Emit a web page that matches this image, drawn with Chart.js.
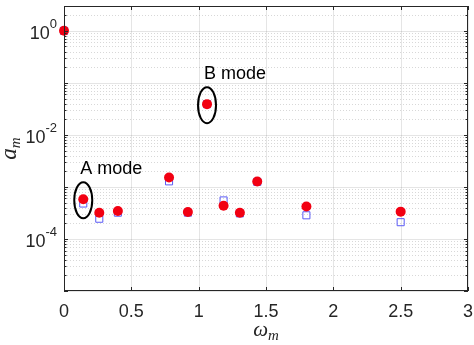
<!DOCTYPE html>
<html>
<head>
<meta charset="utf-8">
<script src="https://cdn.jsdelivr.net/npm/chart.js@4/dist/chart.umd.min.js"></script>
<style>
  html, body { margin: 0; padding: 0; background: #fff; }
  canvas { display: block; }
</style>
</head>
<body>
<canvas id="c" width="474" height="345"></canvas>
<script>
// Modal frequencies and amplitudes
const omega    = [0, 0.143, 0.262, 0.40, 0.78, 0.92, 1.062, 1.185, 1.306, 1.435, 1.80, 2.50];
const ampFilled = [1.0, 5.8e-4, 3.2e-4, 3.45e-4, 1.52e-3, 3.3e-4, 0.039, 4.35e-4, 3.2e-4, 1.27e-3, 4.2e-4, 3.35e-4];
const ampOpen   = [1.0, 4.8e-4, 2.45e-4, 3.2e-4, 1.28e-3, 3.2e-4, 0.039, 5.5e-4, 3.1e-4, 1.25e-3, 2.85e-4, 2.1e-4];

// Axis ticks
const xTicks = [0, 0.5, 1, 1.5, 2, 2.5, 3];
const xTickLabels = ['0', '0.5', '1', '1.5', '2', '2.5', '3'];
const yDecades = [-5, -4, -3, -2, -1, 0];
const yLabelledExp = [0, -2, -4];

// Highlighted modes (index into omega)
const modeNotes = [
  { label: 'A mode', index: 1 },
  { label: 'B mode', index: 6 }
];

const AXIS = '#262626';
const FONT = '"Liberation Sans", Arial, sans-serif';

const pts = (ys) => omega.map((x, i) => ({ x, y: ys[i] }));

const axesPlugin = {
  id: 'matlabAxes',
  beforeDatasetsDraw(chart) {
    const { ctx, chartArea: a, scales: { x, y } } = chart;
    ctx.save();
    // minor horizontal grid (dotted)
    ctx.strokeStyle = 'rgba(38,38,38,0.18)';
    ctx.lineWidth = 1;
    ctx.setLineDash([1, 2]);
    yDecades.forEach(d => {
      for (let m = 2; m <= 9; m++) {
        const v = m * Math.pow(10, d);
        if (v > y.max) continue;
        const py = Math.round(y.getPixelForValue(v)) + 0.5;
        ctx.beginPath(); ctx.moveTo(a.left, py); ctx.lineTo(a.right, py); ctx.stroke();
      }
    });
    ctx.setLineDash([]);
    // major grid
    ctx.strokeStyle = 'rgba(38,38,38,0.12)';
    yDecades.forEach(d => {
      const py = Math.round(y.getPixelForValue(Math.pow(10, d))) + 0.5;
      ctx.beginPath(); ctx.moveTo(a.left, py); ctx.lineTo(a.right, py); ctx.stroke();
    });
    xTicks.forEach(t => {
      const px = Math.round(x.getPixelForValue(t)) + 0.5;
      ctx.beginPath(); ctx.moveTo(px, a.top); ctx.lineTo(px, a.bottom); ctx.stroke();
    });
    ctx.restore();
  },
  afterDatasetsDraw(chart) {
    const { ctx, chartArea: a, scales: { x, y } } = chart;
    ctx.save();
    // box
    ctx.strokeStyle = AXIS;
    ctx.lineWidth = 1;
    ctx.strokeRect(a.left + 0.5, a.top + 0.5, a.right - a.left - 1, a.bottom - a.top - 1);
    // x ticks
    ctx.beginPath();
    xTicks.forEach(t => {
      const px = Math.round(x.getPixelForValue(t)) + 0.5;
      ctx.moveTo(px, a.bottom); ctx.lineTo(px, a.bottom - 4);
      ctx.moveTo(px, a.top); ctx.lineTo(px, a.top + 4);
    });
    // y ticks (major + minor)
    yDecades.forEach(d => {
      for (let m = 1; m <= 9; m++) {
        const v = m * Math.pow(10, d);
        if (v > y.max) continue;
        const len = m === 1 ? 4 : 2.5;
        const py = Math.round(y.getPixelForValue(v)) + 0.5;
        ctx.moveTo(a.left, py); ctx.lineTo(a.left + len, py);
        ctx.moveTo(a.right, py); ctx.lineTo(a.right - len, py);
      }
    });
    ctx.stroke();

    // x tick labels
    ctx.fillStyle = AXIS;
    ctx.font = '18px ' + FONT;
    ctx.textAlign = 'center';
    ctx.textBaseline = 'middle';
    xTicks.forEach((t, i) => {
      ctx.fillText(xTickLabels[i], x.getPixelForValue(t), 312);
    });

    // y tick labels: 10 with superscript exponent
    yLabelledExp.forEach(e => {
      const py = y.getPixelForValue(Math.pow(10, e));
      const exp = String(e);
      ctx.font = '13px ' + FONT;
      const we = ctx.measureText(exp).width;
      ctx.textAlign = 'left';
      ctx.textBaseline = 'alphabetic';
      const right = a.left - 7;
      ctx.fillText(exp, right - we, py - 3);
      ctx.font = '18px ' + FONT;
      const wb = ctx.measureText('10').width;
      ctx.fillText('10', right - we - wb, py + 8);
    });

    // axis titles
    ctx.textAlign = 'left';
    ctx.textBaseline = 'alphabetic';
    // x title: omega_m
    ctx.font = 'italic 21px "Liberation Serif", "DejaVu Serif", serif';
    const cx = (a.left + a.right) / 2;
    const ww = ctx.measureText('ω').width;
    ctx.font = 'italic 15px "Liberation Serif", "DejaVu Serif", serif';
    const wm = ctx.measureText('m').width;
    let sx = cx - (ww + wm) / 2;
    ctx.font = 'italic 21px "Liberation Serif", "DejaVu Serif", serif';
    ctx.fillText('ω', sx, 336);
    ctx.font = 'italic 15px "Liberation Serif", "DejaVu Serif", serif';
    ctx.fillText('m', sx + ww, 340);

    // y title: a_m (rotated)
    ctx.save();
    ctx.translate(16, (a.top + a.bottom) / 2);
    ctx.rotate(-Math.PI / 2);
    ctx.font = 'italic 23px "Liberation Serif", "DejaVu Serif", serif';
    const wa = ctx.measureText('a').width;
    ctx.font = 'italic 15px "Liberation Serif", "DejaVu Serif", serif';
    const wm2 = ctx.measureText('m').width;
    const sy = -(wa + wm2) / 2;
    ctx.font = 'italic 23px "Liberation Serif", "DejaVu Serif", serif';
    ctx.fillText('a', sy, 0);
    ctx.font = 'italic 15px "Liberation Serif", "DejaVu Serif", serif';
    ctx.fillText('m', sy + wa, 4);
    ctx.restore();

    // mode annotations
    modeNotes.forEach(n => {
      const px = x.getPixelForValue(omega[n.index]);
      const py = y.getPixelForValue(ampFilled[n.index]);
      ctx.strokeStyle = '#000';
      ctx.lineWidth = 2;
      ctx.beginPath();
      ctx.ellipse(px, py + 1, 9, 18, 0, 0, Math.PI * 2);
      ctx.stroke();
      ctx.fillStyle = '#000';
      ctx.font = '18px ' + FONT;
      ctx.textAlign = 'left';
      ctx.textBaseline = 'middle';
      ctx.fillText(n.label, px - 3, py - 30);
    });
    ctx.restore();
  }
};

new Chart(document.getElementById('c'), {
  type: 'scatter',
  data: {
    datasets: [
      {
        data: pts(ampFilled),
        pointStyle: 'circle',
        pointRadius: 5,
        pointHoverRadius: 5,
        backgroundColor: '#f20012',
        borderColor: '#f20012',
        borderWidth: 0,
        clip: false
      },
      {
        data: pts(ampOpen),
        pointStyle: 'rect',
        pointRadius: 5,
        pointHoverRadius: 5,
        backgroundColor: 'rgba(0,0,0,0)',
        borderColor: '#5a5af5',
        borderWidth: 1,
        clip: false
      }
    ]
  },
  options: {
    responsive: false,
    animation: false,
    events: [],
    layout: { padding: { left: 64, right: 5, top: 1, bottom: 54 } },
    plugins: { legend: { display: false }, tooltip: { enabled: false } },
    scales: {
      x: { type: 'linear', min: 0, max: 3, display: false },
      y: { type: 'logarithmic', min: 1e-5, max: 3, display: false }
    }
  },
  plugins: [axesPlugin]
});
</script>
</body>
</html>
